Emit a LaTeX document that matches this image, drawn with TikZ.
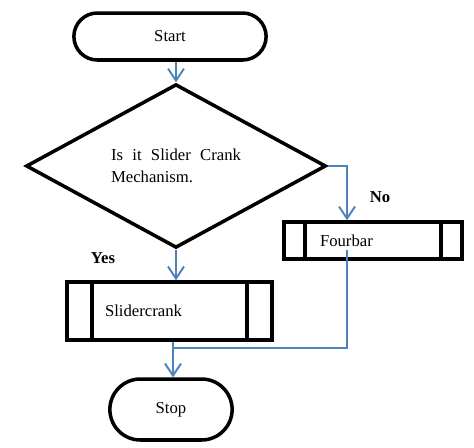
\documentclass[tikz,border=0pt]{standalone}
\usepackage{fontspec}
\setmainfont{Liberation Serif}
\usetikzlibrary{shapes.geometric,shapes.misc,arrows.meta}

\definecolor{flowblue}{RGB}{79,129,189}

\tikzset{
	terminal/.style={draw, rounded rectangle, line width=2pt},
	procbox/.style={draw, line width=2pt, align=left,
		path picture={
			\draw[line width=2pt] ([xshift=#1]path picture bounding box.north west) -- ([xshift=#1]path picture bounding box.south west);
			\draw[line width=2pt] ([xshift=-#1]path picture bounding box.north east) -- ([xshift=-#1]path picture bounding box.south east);
		}},
	flow/.style={flowblue, line width=1.1pt, -{Straight Barb[length=2.4mm,width=3.2mm]}},
	lbl/.style={font=\fontsize{9.5}{12}\selectfont\bfseries}
}

\begin{document}
\begin{tikzpicture}[x=0.02cm, y=-0.02cm, font=\fontsize{9.5}{12.5}\selectfont]
	  \useasboundingbox (0,0) rectangle (474,447);

	  \node[terminal, minimum width=4.08cm, minimum height=0.94cm] (start) at (170,36.5) {Start};
	  \node[draw, diamond, line width=2pt, minimum width=6cm, minimum height=3.18cm, inner sep=0pt,
	        text width=2.6cm, align=justify] (dec) at (176,166) {Is it Slider Crank Mechanism.};
	  \node[procbox=0.42cm, minimum width=3.56cm, minimum height=0.74cm,
	        inner xsep=0.72cm, text width=2.12cm] (fourbar) at (373,240.5) {Fourbar};
	  \node[procbox=0.5cm, minimum width=4.1cm, minimum height=1.16cm,
	        inner xsep=0.76cm, text width=2.58cm] (slider) at (169.5,311) {Slidercrank};
	  \node[terminal, minimum width=2.68cm, minimum height=1.22cm] (stop) at (171,409.5) {Stop};

	  \node[lbl] (yes) at (103,258) {Yes};
	  \node[lbl] (no) at (380,197) {No};

	  \coordinate (fb) at (347,250);
	  \coordinate (join) at (173,348);

	  \draw[flow] (start.south -| dec.north) -- (dec.north);
	  \draw[flow] (dec.east) -| (fb |- fourbar.north);
	  \draw[flow] (dec.south) -- (dec.south |- slider.north);
	  \draw[flowblue, line width=0.7pt] (fb) |- (join);
	  \draw[flow] (join |- slider.south) -- (join |- stop.north);
\end{tikzpicture}
\end{document}
